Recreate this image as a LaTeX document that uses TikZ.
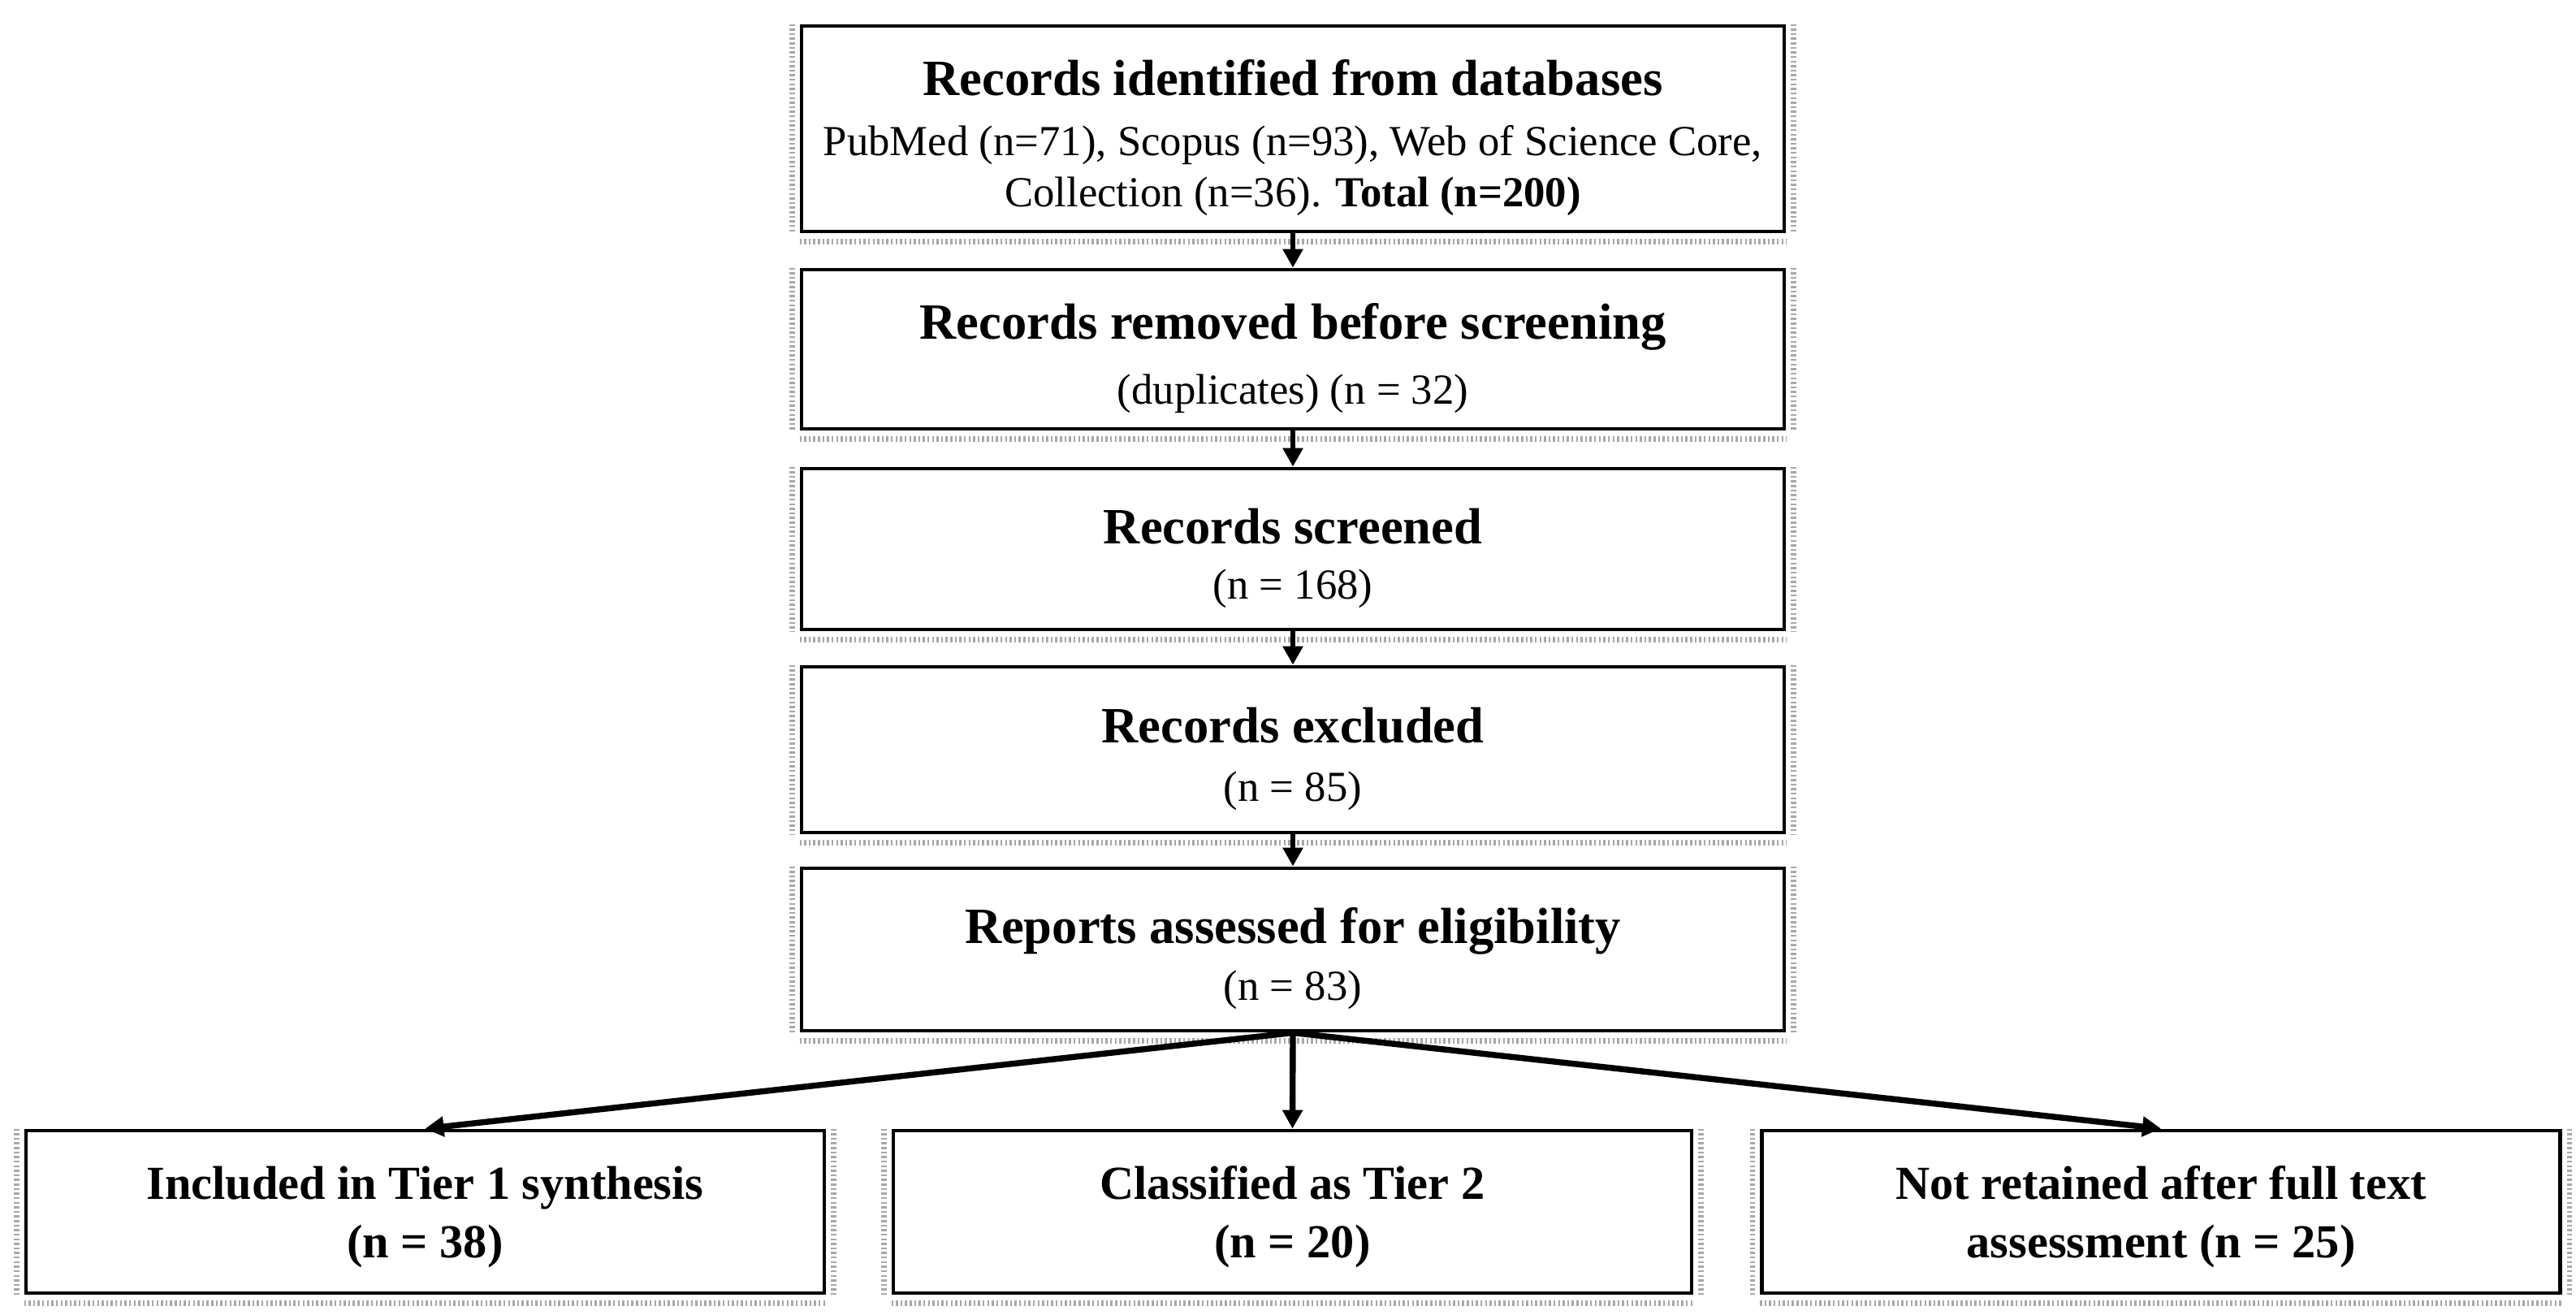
\documentclass[tikz,border=0pt]{standalone}
\usepackage{fontspec}
\setmainfont{Liberation Serif}
\usetikzlibrary{arrows.meta}
\definecolor{ink}{HTML}{000000}
\definecolor{hatch}{HTML}{A8A8A8}
\newcommand{\ttl}{\fontsize{17.8}{21}\selectfont\bfseries\rule{0pt}{18.8pt}}
\newcommand{\tierttl}{\rule{0pt}{15.2pt}}
\begin{document}
\begin{tikzpicture}[
    >={Triangle[length=2.3mm,width=2.4mm]},
    % --- stage boxes --------------------------------------------------
    stage/.style={draw=ink,line width=1.4pt,fill=white,minimum width=12.1cm,
                  inner sep=0pt,align=center,font=\fontsize{15}{18}\selectfont},
    tier/.style={stage,minimum width=9.83cm,minimum height=2cm,
                 font=\fontsize{16.6}{20.5}\selectfont\bfseries},
    % --- connectors ---------------------------------------------------
    flow/.style={draw=ink,line width=1.7pt,->},
    fan/.style={draw=ink,line width=2.1pt,->},
    % --- misc ---------------------------------------------------------
    shade/.style={draw=hatch,line width=1.8pt,dash pattern=on 0.7pt off 0.9pt},
  ]

\useasboundingbox (0,0) rectangle (31.72,-16.18);

% =====================================================================
%  Main column
% =====================================================================
\node[stage,minimum height=2.53cm] (ident) at (15.92,-1.585)
     {{\ttl Records identified from databases}\\[3pt]
      PubMed (n=71), Scopus (n=93), Web of Science Core,\\
      Collection (n=36). \textbf{Total (n=200)}};
\node[stage,minimum height=1.96cm] (dupl) at (15.92,-4.30)
     {{\ttl Records removed before screening}\\[5pt]
      (duplicates) (n = 32)};
\node[stage,minimum height=1.98cm] (screen) at (15.92,-6.76)
     {{\ttl Records screened}\\[1.3pt] (n = 168)};
\node[stage,minimum height=2.04cm] (excl) at (15.92,-9.23)
     {{\ttl Records excluded}\\[2.5pt] (n = 85)};
\node[stage,minimum height=2.00cm] (elig) at (15.92,-11.69)
     {{\ttl Reports assessed for eligibility}\\[2pt] (n = 83)};

% =====================================================================
%  Outcome row
% =====================================================================
\node[tier] (tierA) at (5.235,-14.92) {\tierttl Included in Tier 1 synthesis\\ (n = 38)};
\node[tier] (tierB) at (15.915,-14.92) {\tierttl Classified as Tier 2\\ (n = 20)};
\node[tier] (tierC) at (26.61,-14.92) {\tierttl Not retained after full text\\ assessment (n = 25)};

% ---- stippled edge shadows -----------------------------------------
\foreach \n in {ident,dupl,screen,excl,elig,tierA,tierB,tierC}{
  \draw[shade] ([yshift=-0.1cm]\n.south west) -- ([yshift=-0.1cm]\n.south east);
  \draw[shade] ([xshift=-0.09cm]\n.north west) -- ([xshift=-0.09cm]\n.south west);
  \draw[shade] ([xshift=0.09cm]\n.north east) -- ([xshift=0.09cm]\n.south east);
}

% =====================================================================
%  Connectors
% =====================================================================
\draw[flow] (ident) -- (dupl);
\draw[flow] (dupl) -- (screen);
\draw[flow] (screen) -- (excl);
\draw[flow] (excl) -- (elig);

\draw[fan] (elig.south) -- (tierA.north);
\draw[fan] (elig.south) -- (tierB.north);
\draw[fan] (elig.south) -- (tierC.north);

\end{tikzpicture}
\end{document}
